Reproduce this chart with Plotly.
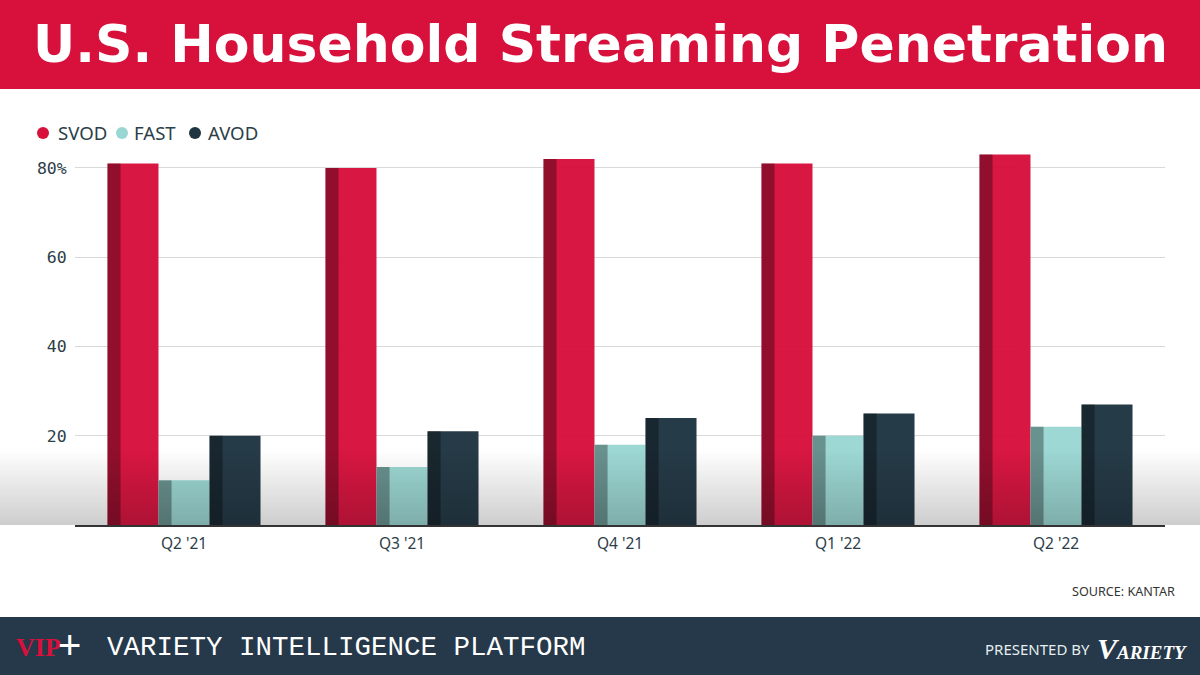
import plotly.graph_objects as go

quarters = ["Q2 '21", "Q3 '21", "Q4 '21", "Q1 '22", "Q2 '22"]
svod = [81, 80, 82, 81, 83]
fast = [10, 13, 18, 20, 22]
avod = [20, 21, 24, 25, 27]

tick_vals = [20, 40, 60, 80]
tick_text = ["20", "40", "60", "80%"]

RED = "#d7103c"
TEAL = "#9ad7d3"
DARK = "#1f3542"
BAND = "#25394a"
INK = "#2c3e48"

BAR_W = 0.234
SIDE_W = 0.06
START = -0.351

W, H = 1200, 675
L, R, T, B = 75, 35, 150, 150
PW, PH = W - L - R, H - T - B


# paper coords are relative to the plot area
def px_x(v):
    return (v - L) / PW


def px_y(v):
    return (H - B - v) / PH


fig = go.Figure()

for i, (name, vals, col) in enumerate([("SVOD", svod, RED), ("FAST", fast, TEAL), ("AVOD", avod, DARK)]):
    fig.add_trace(go.Bar(x=quarters, y=vals, name=name, width=BAR_W, offset=START + i * BAR_W,
                         marker=dict(color=col, line_width=0), opacity=0.97, showlegend=False))
    # darker strip down the left side of each bar
    fig.add_trace(go.Bar(x=quarters, y=vals, name=name + " side", width=SIDE_W, offset=START + i * BAR_W,
                         marker=dict(color="rgba(0,0,0,0.33)", line_width=0), showlegend=False, hoverinfo="skip"))

shapes = [
    dict(type="rect", xref="paper", yref="paper", x0=px_x(0), x1=px_x(W), y0=px_y(89), y1=px_y(0),
         fillcolor=RED, line_width=0, layer="below"),
    dict(type="rect", xref="paper", yref="paper", x0=px_x(0), x1=px_x(W), y0=px_y(H), y1=px_y(617),
         fillcolor=BAND, line_width=0, layer="below"),
]

# grey fade over the bottom of the plot
for k in range(38):
    y = 449 + k * 2
    shapes.append(dict(type="rect", xref="paper", yref="paper", x0=px_x(0), x1=px_x(W), y0=px_y(y + 2), y1=px_y(y),
                       fillcolor="rgba(0,0,0,%.4f)" % (0.0052 * k), line_width=0, layer="above"))

# legend dots
for cx, col in [(43, RED), (122, TEAL), (195, DARK)]:
    shapes.append(dict(type="circle", xref="paper", yref="paper", x0=px_x(cx - 6), x1=px_x(cx + 6),
                       y0=px_y(139), y1=px_y(127), fillcolor=col, line_width=0))


def label(text, x, y, size, color, family, anchor="left"):
    return dict(text=text, x=px_x(x), y=px_y(y), xref="paper", yref="paper", xanchor=anchor, yanchor="middle",
                showarrow=False, align=anchor, font=dict(size=size, color=color, family=family))


annotations = [
    label("<b>U.S. Household Streaming Penetration</b>", 600, 44, 52, "white", "DejaVu Sans", "center"),
    label("SVOD", 56, 132, 18.6, INK, "Noto Sans"),
    label("FAST", 132, 132, 18.6, INK, "Noto Sans"),
    label("AVOD", 206, 132, 18.6, INK, "Noto Sans"),
    label("SOURCE: KANTAR", 1177, 591, 12.6, "#333333", "Noto Sans", "right"),
    label("<b>VIP</b>", 14, 647, 26, RED, "Liberation Serif"),
    label("+", 56, 645, 40, "white", "Liberation Sans"),
    label("VARIETY INTELLIGENCE PLATFORM", 105, 647, 27.5, "white", "Liberation Mono"),
    label("PRESENTED BY", 983, 649, 15, "#e6eeee", "Noto Sans"),
    label("<b><i><span style='font-size:30px'>V</span>ARIETY</i></b>", 1095, 648, 19, "white", "Liberation Serif"),
]

fig.update_layout(
    width=W,
    height=H,
    margin=dict(l=L, r=R, t=T, b=B),
    paper_bgcolor="white",
    plot_bgcolor="rgba(0,0,0,0)",
    barmode="overlay",
    showlegend=False,
    shapes=shapes,
    annotations=annotations,
    xaxis=dict(type="category", showgrid=False, showline=True, linecolor="#333333", linewidth=1.5,
               ticks="outside", ticklen=4, tickcolor="rgba(0,0,0,0)",
               tickfont=dict(size=15.5, color=INK, family="Noto Sans")),
    yaxis=dict(range=[0, 84.03], tickvals=tick_vals, ticktext=tick_text, showline=False, zeroline=False,
               gridcolor="#d9d9d9", gridwidth=1.2, ticks="outside", ticklen=4, tickcolor="rgba(0,0,0,0)",
               tickfont=dict(size=16.5, color=INK, family="DejaVu Sans Mono")),
)

fig.write_html("out.html", config=dict(displayModeBar=False), post_script="document.body.style.margin='0';")
